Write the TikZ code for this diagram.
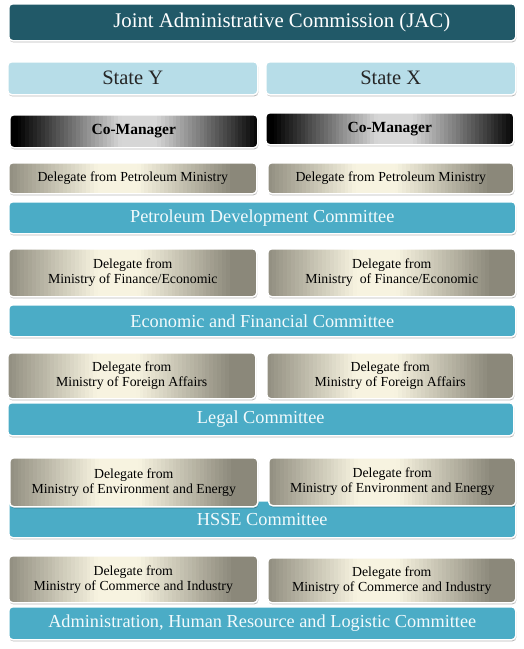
\documentclass[tikz,border=0pt]{standalone}
\usepackage{fontspec}
\setmainfont{Liberation Serif}
\usetikzlibrary{shadows,calc}
\definecolor{jacc}{RGB}{33,89,104}
\definecolor{statec}{RGB}{183,221,232}
\definecolor{commc}{RGB}{75,172,198}
\definecolor{dgray}{RGB}{139,136,122}
\definecolor{dlight}{RGB}{247,243,224}
\definecolor{cmlight}{RGB}{214,214,214}
\definecolor{commtext}{RGB}{242,250,252}
\tikzset{
  gradfill/.style n args={5}{path picture={
    \coordinate (gsw) at (path picture bounding box.south west);
    \coordinate (gne) at (path picture bounding box.north east);
    \foreach \i in {0,...,63}{
      \pgfmathsetmacro\ta{\i/64}
      \pgfmathsetmacro\tb{(\i+1.15)/64}
      \pgfmathsetmacro\tm{(\i+0.5)/64}
      \pgfmathsetmacro\w{100*max(0,min(1,1-(abs(\tm-#3)-#4)/#5))}
      \fill[sharp corners, #2!\w!#1] ($(gsw)!\ta!(gsw-|gne)$) rectangle ($(gsw|-gne)!\tb!(gne)$);
    }}},
  box/.style={draw=white, line width=1.5pt, rounded corners=4pt, inner sep=0pt, anchor=north west, align=center,
    drop shadow={shadow xshift=0.6pt, shadow yshift=-1.6pt, opacity=0.28, fill=black}},
  jacbox/.style={box, fill=jacc, text=white, font=\fontsize{20.8}{22}\selectfont},
  statebox/.style={box, fill=statec, text=black!85, font=\fontsize{20.5}{22}\selectfont},
  cmbox/.style={box, fill=black, gradfill={black}{cmlight}{0.52}{0.07}{0.42}, text=black, font=\fontsize{15.5}{17}\selectfont\bfseries},
  delbox/.style={box, fill=dgray, gradfill={dgray}{dlight}{0.44}{0.08}{0.38}, text=black, font=\fontsize{13.8}{15}\selectfont},
  commbox/.style={box, fill=commc, text=commtext, font=\fontsize{18.3}{20}\selectfont},
}
\begin{document}
\begin{tikzpicture}[x=1pt,y=-1pt]
\fill[white] (0,0) rectangle (523,649);
\useasboundingbox (0,0) rectangle (523,649);
% committees first (they lie under the delegate boxes)
\node[commbox, minimum width=507pt, minimum height=32pt] (pdc) at (8,201) {Petroleum Development Committee};
\node[commbox, minimum width=507pt, minimum height=32pt] (efc) at (8,304) {Economic and Financial Committee};
\node[commbox, minimum width=506pt, minimum height=33pt] (legal) at (7,402) {Legal Committee};
\node[commbox, minimum width=507pt, minimum height=37pt] (hsse) at (8,500) {\raisebox{-3pt}{HSSE Committee}};
\node[commbox, minimum width=507pt, minimum height=33pt] (admin) at (8,606) {Administration, Human Resource and Logistic Committee};
% top
\node[jacbox, minimum width=507pt, minimum height=37pt] (jac) at (8,3) {\hspace*{39pt}Joint Administrative Commission (JAC)};
\node[statebox, minimum width=250pt, minimum height=33pt] (sy) at (7,61) {State Y};
\node[statebox, minimum width=250pt, minimum height=33pt] (sx) at (265,61) {State X};
\node[cmbox, minimum width=248pt, minimum height=33pt] (cmy) at (9,114) {Co-Manager};
\node[cmbox, minimum width=248pt, minimum height=32pt] (cmx) at (265,112) {Co-Manager};
% delegates
\node[delbox, minimum width=248pt, minimum height=31pt] (pety) at (8,162) {Delegate from Petroleum Ministry};
\node[delbox, minimum width=246pt, minimum height=31pt] (petx) at (267,162) {Delegate from Petroleum Ministry};
\node[delbox, minimum width=248pt, minimum height=48pt] (finy) at (8,248) {Delegate from\\Ministry of Finance/Economic};
\node[delbox, minimum width=248pt, minimum height=48pt] (finx) at (267,248) {Delegate from\\Ministry~ of Finance/Economic};
\node[delbox, minimum width=248pt, minimum height=46pt] (fory) at (7,352) {Delegate from\\Ministry of Foreign Affairs};
\node[delbox, minimum width=247pt, minimum height=46pt] (forx) at (266,352) {Delegate from\\Ministry of Foreign Affairs};
\node[delbox, minimum width=248pt, minimum height=49pt] (envy) at (9,457) {Delegate from\\Ministry of Environment and Energy};
\node[delbox, minimum width=247pt, minimum height=48pt] (envx) at (268,457) {Delegate from\\Ministry of Environment and Energy};
\node[delbox, minimum width=249pt, minimum height=47pt] (comy) at (8,555) {Delegate from\\Ministry of Commerce and Industry};
\node[delbox, minimum width=248pt, minimum height=45pt] (comx) at (267,557) {Delegate from\\Ministry of Commerce and Industry};
\end{tikzpicture}
\end{document}
